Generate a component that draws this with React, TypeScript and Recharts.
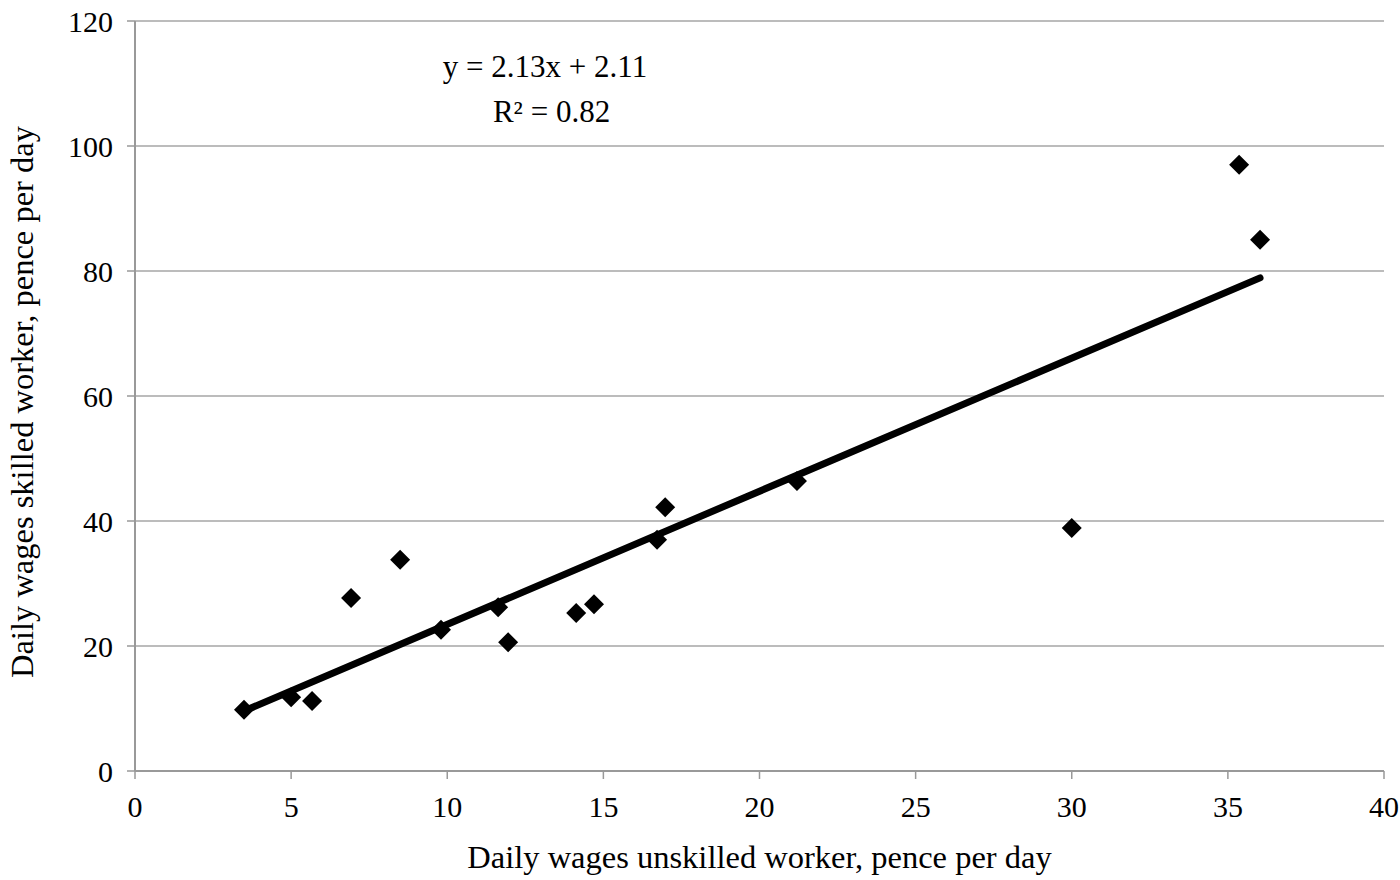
import {
  ReferenceDot,
  Scatter,
  ScatterChart,
  XAxis,
  YAxis,
  CartesianGrid,
} from "recharts";

// values
const unskilled = [3.49, 5.0, 5.67, 6.92, 8.49, 9.8, 11.63, 11.95, 14.13, 14.7, 16.72, 16.98, 21.2, 30.0, 35.36, 36.03];
const skilled = [9.8, 11.8, 11.2, 27.7, 33.8, 22.6, 26.2, 20.6, 25.3, 26.7, 37.0, 42.2, 46.4, 38.9, 97.0, 85.0];

// ends of the fitted line as drawn
const trendX = [3.49, 36.03];
const trendY = [9.6, 78.9];

const xTicks = [0, 5, 10, 15, 20, 25, 30, 35, 40];
const yTicks = [0, 20, 40, 60, 80, 100, 120];

const equation = "y = 2.13x + 2.11";
const rSquared = "R² = 0.82";

const points = unskilled.map((x, i) => ({ x, y: skilled[i] }));
const trend = trendX.map((x, i) => ({ x, y: trendY[i] }));

const FONT = "'Liberation Serif', 'Times New Roman', serif";

const Diamond = (props: any) => {
  const { cx, cy } = props;
  const r = 10;
  return (
    <polygon
      points={`${cx},${cy - r} ${cx + r},${cy} ${cx},${cy + r} ${cx - r},${cy}`}
      fill="#000"
    />
  );
};

const YTitle = () => (
  <text
    x={33}
    y={402}
    transform="rotate(-90 33 402)"
    textAnchor="middle"
    fontSize={32.5}
    fontFamily={FONT}
    fill="#000"
  >
    Daily wages skilled worker, pence per day
  </text>
);

const XTitle = (props: any) => {
  const { viewBox } = props;
  return (
    <text
      x={viewBox.x + viewBox.width / 2}
      y={868}
      textAnchor="middle"
      fontSize={32.5}
      fontFamily={FONT}
      fill="#000"
    >
      Daily wages unskilled worker, pence per day
    </text>
  );
};

const noShape = () => null;

export default function App() {
  return (
    <div style={{ position: "absolute", left: 0, top: 0, background: "#fff" }}>
      <ScatterChart
        width={1400}
        height={880}
        margin={{ top: 21, right: 16, bottom: 0, left: 0 }}
      >
        <CartesianGrid horizontal vertical={false} stroke="#a6a6a6" strokeWidth={1.3} />
        <XAxis
          type="number"
          dataKey="x"
          domain={[0, 40]}
          ticks={xTicks}
          interval={0}
          height={109}
          tickSize={8}
          tickMargin={17}
          axisLine={{ stroke: "#999", strokeWidth: 2 }}
          tickLine={{ stroke: "#999", strokeWidth: 1.5 }}
          tick={{ fill: "#000", fontSize: 30, fontFamily: FONT }}
          label={<XTitle />}
        />
        <YAxis
          type="number"
          dataKey="y"
          domain={[0, 120]}
          ticks={yTicks}
          interval={0}
          width={135}
          tickSize={8}
          tickMargin={14}
          axisLine={{ stroke: "#999", strokeWidth: 2 }}
          tickLine={{ stroke: "#999", strokeWidth: 1.5 }}
          tick={{ fill: "#000", fontSize: 30, fontFamily: FONT }}
          label={<YTitle />}
        />
        <Scatter
          data={trend}
          line={{ stroke: "#000", strokeWidth: 7, strokeLinecap: "round" }}
          shape={noShape}
          isAnimationActive={false}
        />
        <Scatter data={points} shape={<Diamond />} isAnimationActive={false} />
        <ReferenceDot
          x={13.13}
          y={112.8}
          r={1}
          fill="none"
          stroke="none"
          label={{ value: equation, position: "center", fill: "#000", fontSize: 31, fontFamily: FONT }}
        />
        <ReferenceDot
          x={13.34}
          y={105.6}
          r={1}
          fill="none"
          stroke="none"
          label={{ value: rSquared, position: "center", fill: "#000", fontSize: 31, fontFamily: FONT }}
        />
      </ScatterChart>
    </div>
  );
}
